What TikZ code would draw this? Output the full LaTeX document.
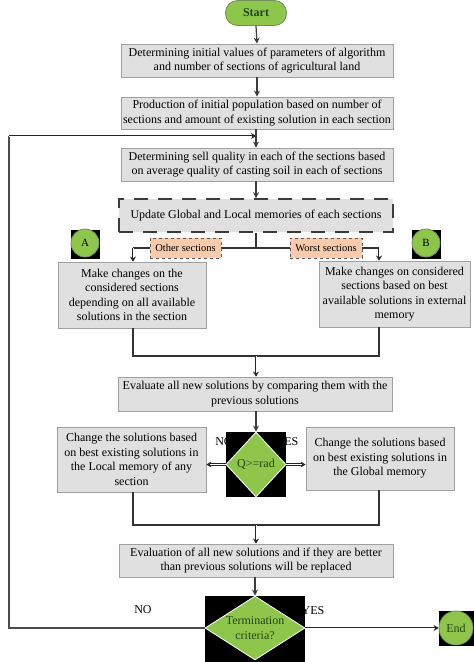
\documentclass[tikz,border=0pt]{standalone}
\usepackage{fontspec}
\setmainfont{Liberation Serif}
\usetikzlibrary{shapes.geometric,arrows.meta}
\definecolor{boxgray}{RGB}{224,224,224}
\definecolor{edgegray}{RGB}{160,160,160}
\definecolor{lgreen}{RGB}{141,198,75}
\definecolor{dgreen}{RGB}{110,150,70}
\definecolor{orangefill}{RGB}{248,203,173}
\definecolor{linegray}{RGB}{60,60,60}
\definecolor{textgreen}{RGB}{30,70,20}
\tikzset{
  procbox/.style={draw=edgegray, fill=boxgray, line width=0.8pt, align=center, inner sep=1pt, font=\fontsize{12}{14.5}\selectfont},
  dashbox/.style={draw=linegray, fill=boxgray, line width=1.6pt, dash pattern=on 14pt off 10pt, align=center, font=\fontsize{12}{14.5}\selectfont},
  tagbox/.style={draw=gray!70!black, fill=orangefill, line width=1pt, dashed, font=\fontsize{10.5}{12}\selectfont, inner sep=1pt},
  greencirc/.style={circle, draw=dgreen!60!gray, fill=lgreen, line width=0.8pt, inner sep=0pt, font=\fontsize{11}{13}\selectfont},
  decision/.style={diamond, aspect=1, draw=white, fill=lgreen, line width=0.8pt, inner sep=0pt, align=center, text=textgreen, font=\fontsize{12}{14.5}\selectfont},
  flow/.style={draw=linegray, line width=1.2pt, -{Stealth[length=6pt,width=6pt]}},
  plain/.style={draw=black!80, line width=1.1pt},
  dbl/.style={draw=black!85, double=white, double distance=1pt, line width=0.8pt},
  dblarrow/.style={dbl, -{Stealth[length=5pt,width=6pt]}},
  backsq/.style={fill=black, draw=none},
  lbl/.style={font=\fontsize{12}{14.5}\selectfont},
}
\begin{document}
\begin{tikzpicture}[x=1pt,y=-1pt]
\useasboundingbox (0,0) rectangle (474,662);
\fill[white] (0,0) rectangle (474,662);

% nodes
\node[draw=dgreen!70!gray, fill=lgreen, rounded corners=12pt, minimum width=61pt, minimum height=25pt, line width=0.8pt, text=textgreen, font=\fontsize{12}{14}\selectfont\bfseries] (start) at (256,13) {Start};
\node[procbox, minimum width=272pt, minimum height=33pt] (b1) at (257,60.5) {Determining initial values of parameters of algorithm\\and number of sections of agricultural land};
\node[procbox, minimum width=272pt, minimum height=32pt] (b2) at (257,113) {Production of initial population based on number of\\sections and amount of existing solution in each section};
\node[procbox, minimum width=272pt, minimum height=33pt] (b3) at (257,164.5) {Determining sell quality in each of the sections based\\on average quality of casting soil in each of sections};
\node[dashbox, minimum width=274pt, minimum height=33pt] (b4) at (256,215.5) {Update Global and Local memories of each sections};

\coordinate (j1) at (256,248);
\coordinate (jl) at (133,248);
\coordinate (jr) at (379,248);
\draw[plain] (b4.south) -- (j1);
\draw[plain] (jl) -- (jr);
\node[tagbox, minimum width=71pt, minimum height=20pt] (other) at (185.5,248) {Other sections};
\node[tagbox, minimum width=72pt, minimum height=20pt] (worst) at (326,248) {Worst sections};

\fill[backsq] (71,230) rectangle (100,259);
\node[greencirc, minimum size=28pt] (A) at (85,243) {A};
\fill[backsq] (412,230) rectangle (441,259);
\node[greencirc, minimum size=28pt] (B) at (426,243) {B};

\node[procbox, minimum width=148pt, minimum height=66pt] (b5) at (132,295) {Make changes on the\\considered sections\\depending on all available\\solutions in the section};
\node[procbox, minimum width=151pt, minimum height=66pt] (b6) at (394.5,294) {Make changes on considered\\sections based on best\\available solutions in external\\memory};

\draw[dblarrow] (jl) -- (b5.north -| jl);
\draw[dblarrow] (jr) -- (b6.north -| jr);

\coordinate (k1) at (256,356);
\coordinate (kl) at (133,356);
\coordinate (kr) at (379,356);
\draw[plain] (b5.south -| kl) -- (kl) -- (kr) -- (b6.south -| kr);

\node[procbox, minimum width=274pt, minimum height=34pt] (b7) at (255,394) {Evaluate all new solutions by comparing them with the\\previous solutions};
\draw[dblarrow] (k1) -- (b7.north -| k1);

% decision 1
\node[lbl] (no1) at (224,442) {NO};
\node[lbl] (yes1) at (287,442) {YES};
\fill[backsq] (226,432) rectangle (286,497);
\node[decision, minimum width=60pt, minimum height=65pt] (d1) at (256,464.5) {Q>=rad};

\node[procbox, minimum width=149pt, minimum height=65pt] (b8) at (131.5,459.5) {Change the solutions based\\on best existing solutions in\\the Local memory of any\\section};
\node[procbox, minimum width=148pt, minimum height=63pt] (b9) at (380,458.5) {Change the solutions based\\on best existing solutions in\\the Global memory};

\draw[flow] (b7.south -| d1) -- (d1.north);
\draw[dblarrow] (d1.west) -- (d1.west -| b8.east);
\draw[dblarrow] (d1.east) -- (d1.east -| b9.west);

\coordinate (m1) at (256,525);
\coordinate (ml) at (133,525);
\coordinate (mr) at (379,525);
\draw[plain] (b8.south -| ml) -- (ml) -- (mr) -- (b9.south -| mr);

\node[procbox, minimum width=274pt, minimum height=33pt] (b10) at (256,560.5) {Evaluation of all new solutions and if they are better\\than previous solutions will be replaced};
\draw[dblarrow] (m1) -- (b10.north -| m1);

% decision 2
\node[lbl] (no2) at (143,610) {NO};
\node[lbl] (yes2) at (313,611) {YES};
\fill[backsq] (205,596) rectangle (305,662);
\node[decision, aspect=1.55, minimum width=100pt, minimum height=64pt] (d2) at (255,628) {Termination\\criteria?};
\draw[flow] (b10.south -| d2) -- (d2.north);

\fill[backsq] (439,611) rectangle (474,646);
\node[greencirc, minimum size=34pt, text=textgreen, font=\fontsize{12}{14}\selectfont] (endn) at (456,628) {End};
\draw[dblarrow] (d2.east) -- (endn.west);

% loop back
\coordinate (c1) at (9,628);
\coordinate (c2) at (9,136);
\coordinate (c3) at (256,136);
\draw[draw=gray!60!black, line width=1.2pt] (d2.west) -- (c1) -- (c2);
\draw[dblarrow] (c2) -- (c3);

\draw[flow] (start.south) -- (b1.north);
\draw[flow] (b1.south) -- (b2.north);
\draw[flow] (b2.south -| c3) -- (b3.north -| c3);
\draw[flow] (b3.south -| b4) -- (b4.north);
\end{tikzpicture}
\end{document}
